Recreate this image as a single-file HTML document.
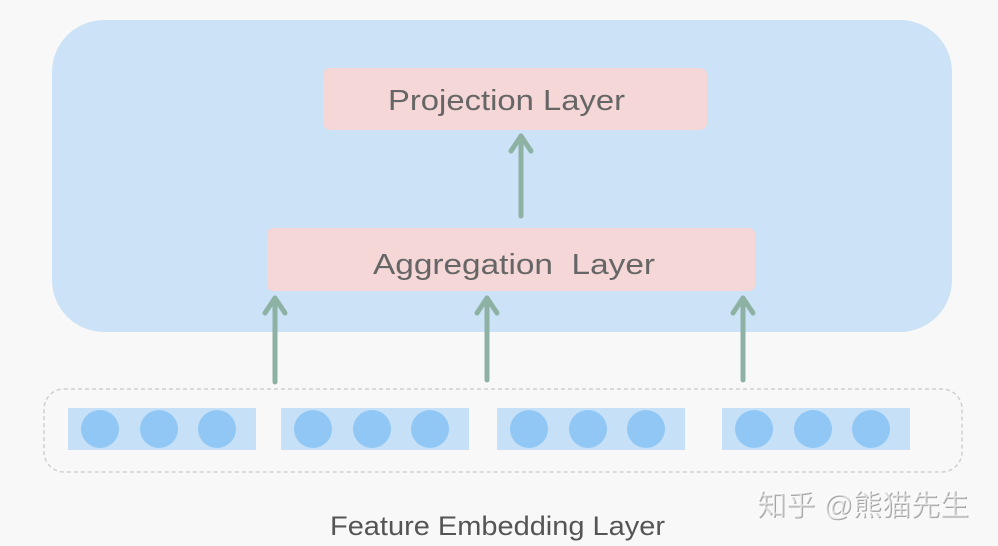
<!DOCTYPE html>
<html><head><meta charset="utf-8"><style>
html,body{margin:0;padding:0;background:#f8f8f8;}
svg{display:block}
text{font-family:"Liberation Sans","Noto Sans CJK SC",sans-serif;}
</style></head><body>
<svg width="998" height="546" viewBox="0 0 998 546" xmlns="http://www.w3.org/2000/svg">
<rect width="998" height="546" fill="#f8f8f8"/>
<rect x="52" y="20" width="900" height="312" rx="52" fill="#cbe2f7"/>
<rect x="323" y="68" width="384" height="62" rx="7" fill="#f4d7d6"/>
<rect x="267" y="228" width="488" height="63" rx="6" fill="#f4d7d6"/>
<text x="388" y="110" font-size="29" fill="#666" textLength="237" lengthAdjust="spacingAndGlyphs">Projection Layer</text>
<text x="373" y="274" font-size="29" fill="#666" xml:space="preserve" textLength="282" lengthAdjust="spacingAndGlyphs">Aggregation  Layer</text>
<g stroke="#8db2a4" stroke-width="5" fill="none" stroke-linecap="round" stroke-linejoin="round">
<line x1="521" y1="216" x2="521" y2="136"/><polyline points="511,151 521,136 531,151"/>
<line x1="275" y1="382" x2="275" y2="298"/><polyline points="265,313 275,298 285,313"/>
<line x1="487" y1="380" x2="487" y2="298"/><polyline points="477,313 487,298 497,313"/>
<line x1="743" y1="380" x2="743" y2="298"/><polyline points="733,313 743,298 753,313"/>
</g>
<rect x="44" y="389" width="918" height="83" rx="20" fill="none" stroke="#cfcfcf" stroke-width="1.5" stroke-dasharray="4,3"/>
<g fill="#c6e0f7">
<rect x="68" y="408" width="188" height="42"/>
<rect x="281" y="408" width="188" height="42"/>
<rect x="497" y="408" width="188" height="42"/>
<rect x="722" y="408" width="188" height="42"/>
</g>
<g fill="#90c7f5">
<circle cx="100" cy="429" r="19"/><circle cx="159" cy="429" r="19"/><circle cx="217" cy="429" r="19"/>
<circle cx="313" cy="429" r="19"/><circle cx="372" cy="429" r="19"/><circle cx="430" cy="429" r="19"/>
<circle cx="529" cy="429" r="19"/><circle cx="588" cy="429" r="19"/><circle cx="646" cy="429" r="19"/>
<circle cx="754" cy="429" r="19"/><circle cx="813" cy="429" r="19"/><circle cx="871" cy="429" r="19"/>
</g>
<text x="330" y="535" font-size="27" fill="#555" textLength="335" lengthAdjust="spacingAndGlyphs">Feature Embedding Layer</text>
<text x="758" y="516" font-size="29" fill="#555" opacity="0.5" textLength="212" lengthAdjust="spacingAndGlyphs">知乎 @熊猫先生</text>
<text x="757" y="515" font-size="29" fill="#fff" opacity="0.6" textLength="212" lengthAdjust="spacingAndGlyphs">知乎 @熊猫先生</text>
</svg>
</body></html>
